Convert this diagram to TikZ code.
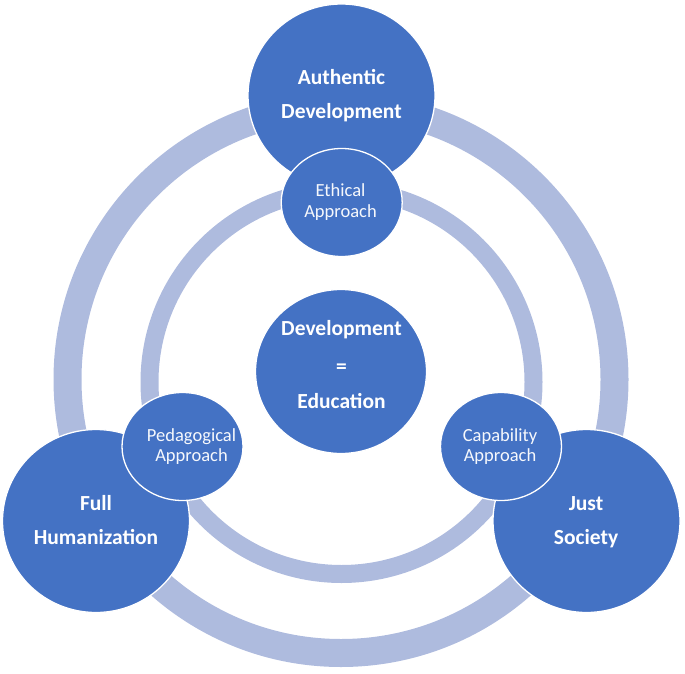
\documentclass[tikz,border=0pt]{standalone}
\usepackage{fontspec}
\setmainfont{Carlito}
\usetikzlibrary{shapes.geometric}
\definecolor{dblue}{RGB}{68,114,196}
\definecolor{lblue}{RGB}{174,187,222}
\tikzset{
  ring/.style={draw=lblue, line width=28pt},
  iring/.style={draw=lblue, line width=18pt},
  disc/.style={ellipse, fill=dblue, draw=white, line width=1.3pt, inner sep=0pt},
  bigc/.style={disc, minimum width=187pt, minimum height=183pt},
  smallc/.style={disc, minimum width=121pt, minimum height=108pt},
  midc/.style={disc, minimum width=171pt, minimum height=164pt},
  btxt/.style={text=white, anchor=base, inner sep=0pt, font=\bfseries\fontsize{21.5}{21.5}\selectfont},
  stxt/.style={text=white!95!dblue, anchor=base, inner sep=0pt, font=\fontsize{18.5}{18.5}\selectfont}
}
\begin{document}
\begin{tikzpicture}[x=1pt,y=-1pt]
\useasboundingbox (0,0) rectangle (685,674);
\coordinate (oc) at (341,379.5);
\coordinate (ic) at (341.5,382);
\draw[ring] (oc) circle[radius=273.5];
\draw[iring] (ic) circle[radius=192];
% big circles
\node[bigc] (ad) at (341.5,95.5) {};
\node[bigc] (fh) at (96,521) {};
\node[bigc] (js) at (586.5,521) {};
% small circles
\node[smallc] (ea) at (341.7,202.5) {};
\node[smallc] (pa) at (182.5,446.5) {};
\node[smallc] (ca) at (501,446.5) {};
% centre
\node[midc] (de) at (341,371.5) {};
% texts
\node[btxt] (t1) at (341.5,85) {Authentic};
\node[btxt] (t2) at (341.5,119) {Development};
\node[btxt] (t3) at (96,510.5) {Full};
\node[btxt] (t4) at (96,544) {Humanization};
\node[btxt] (t5) at (586,510.5) {Just};
\node[btxt] (t6) at (586,544) {Society};
\node[btxt] (t7) at (341.5,335) {Development};
\node[btxt] (t8) at (341.5,373) {=};
\node[btxt] (t9) at (341.5,408.5) {Education};
\node[stxt] (s1) at (340.5,196.5) {Ethical};
\node[stxt] (s2) at (340.5,217) {Approach};
\node[stxt] (s3) at (191.5,441) {Pedagogical};
\node[stxt] (s4) at (191.5,461.5) {Approach};
\node[stxt] (s5) at (500,441.5) {Capability};
\node[stxt] (s6) at (500,461.5) {Approach};
\end{tikzpicture}
\end{document}
